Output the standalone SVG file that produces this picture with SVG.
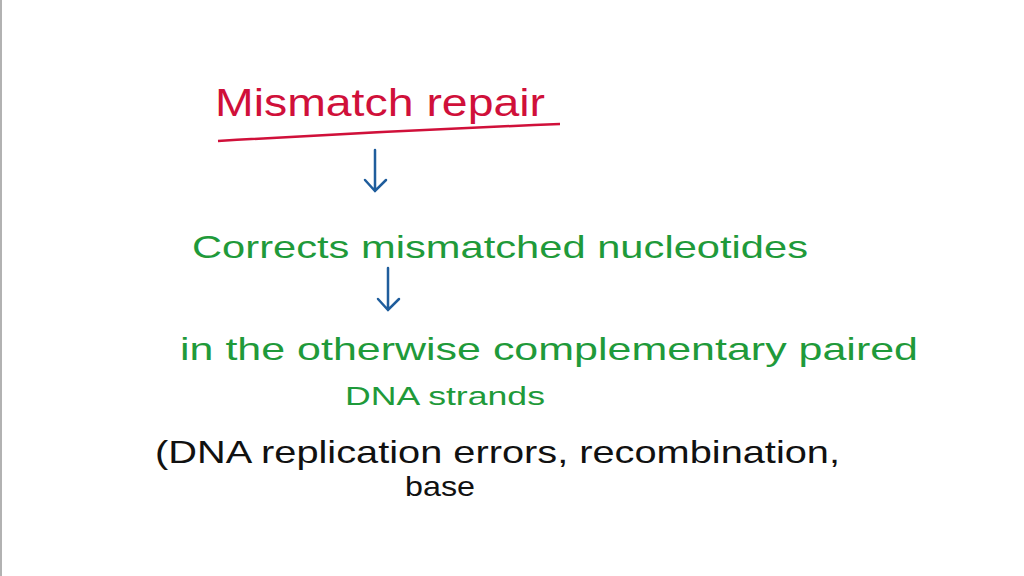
<svg xmlns="http://www.w3.org/2000/svg" width="1024" height="576" viewBox="0 0 1024 576">
<style>
text{font-family:"Liberation Sans",sans-serif;}
.red{fill:#d0103a}.grn{fill:#1f9a3a}.blk{fill:#111}
.arr{stroke:#1f5d9c;stroke-width:2.5;fill:none;stroke-linecap:round}
</style>
<rect width="1024" height="576" fill="#fff"/>
<line x1="1" y1="0" x2="1" y2="576" stroke="#999" stroke-width="1.5"/>
<g id="title"><text class="red" x="215" y="116" font-size="38" textLength="330" lengthAdjust="spacingAndGlyphs">Mismatch repair</text>
<path d="M218 141 Q390 131 560 124" stroke="#d0103a" stroke-width="2.5" fill="none"/></g>
<g id="connectors">
<path class="arr" d="M375 150 L375 191 M365 180 L375 191 L386 180"/>
<path class="arr" d="M388 268 L388 310 M378 299 L388 310 L399 299"/>
</g>
<g id="n1"><text class="grn" x="192" y="258" font-size="32" textLength="616" lengthAdjust="spacingAndGlyphs">Corrects mismatched nucleotides</text></g>
<g id="n2"><text class="grn" x="180" y="360" font-size="32" textLength="738" lengthAdjust="spacingAndGlyphs">in the otherwise complementary paired</text>
<text class="grn" x="345" y="405" font-size="26" textLength="200" lengthAdjust="spacingAndGlyphs">DNA strands</text></g>
<g id="n3"><text class="blk" x="155" y="463" font-size="32" textLength="685" lengthAdjust="spacingAndGlyphs">(DNA replication errors, recombination,</text>
<text class="blk" x="405" y="496" font-size="28" textLength="70" lengthAdjust="spacingAndGlyphs">base</text></g>
</svg>
